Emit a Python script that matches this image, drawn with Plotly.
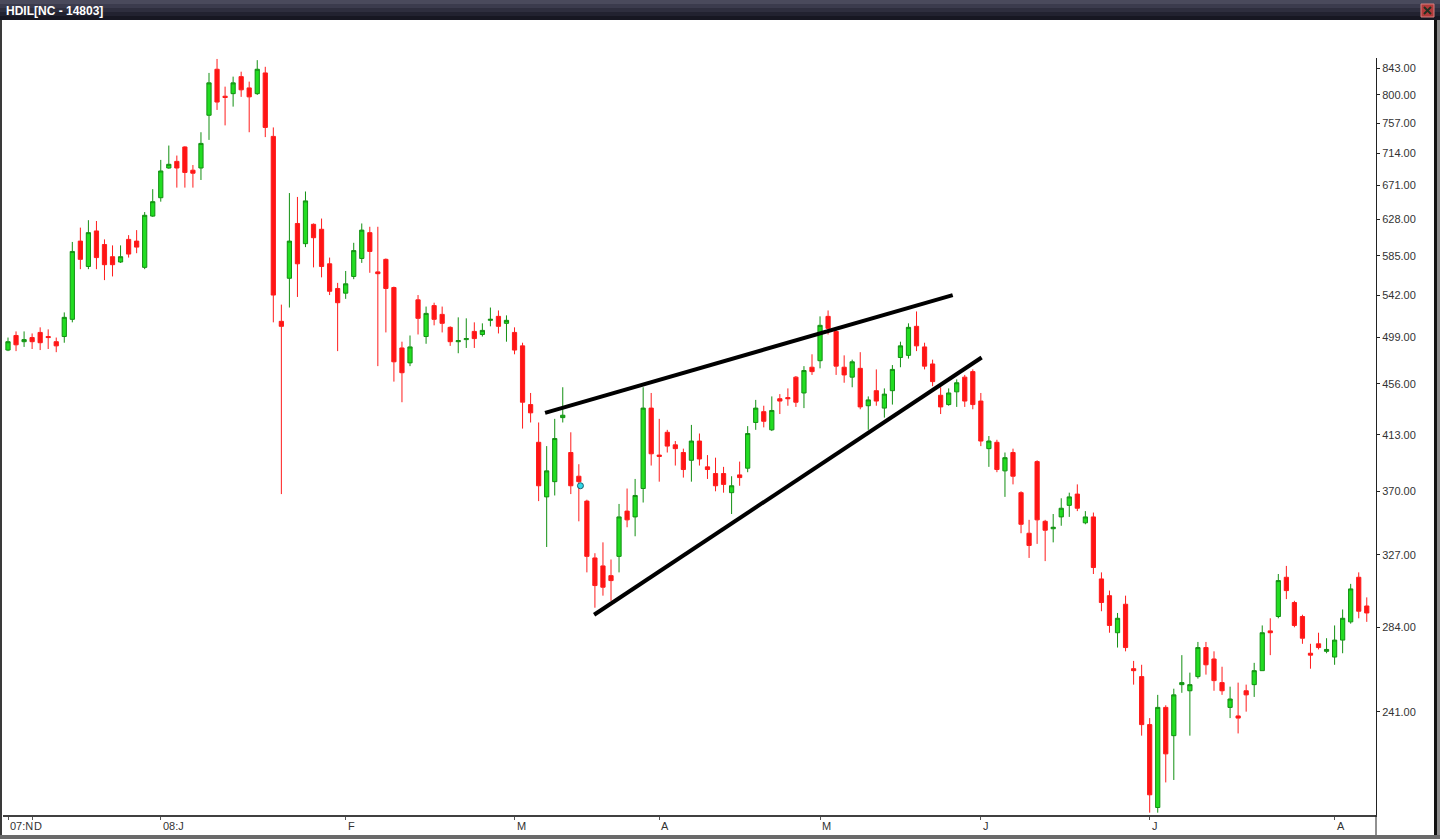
import plotly.graph_objects as go

# ---------------- data ----------------
opens = [487, 501, 495, 499, 504, 500, 495, 500, 517, 602,
         573, 614, 598, 584, 578, 604, 602, 572, 632, 655,
         694, 703, 723, 691, 694, 769, 841, 798, 802, 829,
         811, 802, 835, 738, 515, 560, 623, 599, 622, 616,
         576, 549, 544, 562, 582, 612, 567, 581, 550, 489,
         475, 537, 500, 531, 522, 509, 495, 497, 505, 502,
         516, 520, 513, 504, 491, 438, 407, 366, 377, 427,
         399, 381, 363, 325, 320, 314, 326, 356, 352, 372,
         435, 397, 415, 405, 399, 393, 408, 388, 383, 383,
         369, 382, 387, 423, 432, 417, 443, 444, 462, 448,
         471, 477, 520, 505, 471, 462, 470, 437, 450, 435,
         450, 480, 482, 510, 490, 474, 446, 438, 449, 462,
         467, 441, 402, 407, 385, 399, 369, 341, 392, 349,
         344, 352, 360, 368, 348, 352, 312, 302, 281, 297,
         262, 258, 235, 200, 243, 230, 254, 251, 258, 273,
         267, 255, 243, 239, 251, 254, 261, 282, 290, 313,
         298, 290, 270, 275, 271, 268, 277, 287, 313, 296]
highs = [499, 505, 505, 503, 509, 507, 499, 524, 601, 618,
         627, 626, 604, 597, 597, 609, 615, 637, 666, 705,
         725, 711, 724, 698, 744, 835, 858, 813, 829, 837,
         821, 856, 845, 751, 532, 661, 656, 663, 623, 629,
         583, 555, 568, 600, 623, 619, 619, 582, 551, 495,
         501, 542, 530, 534, 530, 510, 519, 518, 514, 513,
         529, 526, 521, 509, 494, 448, 423, 404, 426, 453,
         415, 390, 364, 328, 335, 324, 361, 372, 379, 453,
         448, 426, 417, 408, 402, 421, 414, 397, 395, 388,
         381, 392, 420, 442, 437, 445, 447, 452, 463, 472,
         483, 520, 526, 508, 482, 478, 485, 445, 469, 452,
         473, 495, 513, 525, 494, 478, 453, 452, 460, 464,
         469, 448, 412, 409, 399, 402, 370, 350, 393, 350,
         354, 365, 369, 375, 356, 355, 316, 305, 292, 302,
         266, 264, 238, 249, 244, 252, 269, 260, 276, 276,
         271, 263, 253, 255, 254, 265, 285, 289, 315, 320,
         299, 291, 275, 281, 278, 285, 294, 309, 316, 301]
lows = [486, 486, 490, 488, 487, 488, 485, 494, 514, 570,
        570, 570, 558, 562, 577, 583, 588, 570, 631, 650,
        693, 668, 668, 668, 678, 733, 777, 754, 782, 797,
        744, 800, 737, 514, 368, 529, 540, 595, 572, 561,
        542, 486, 538, 559, 577, 566, 472, 504, 458, 440,
        472, 502, 493, 511, 504, 491, 484, 489, 489, 500,
        510, 503, 495, 483, 418, 423, 363, 332, 367, 423,
        368, 349, 316, 295, 302, 299, 316, 345, 339, 362,
        389, 377, 399, 389, 380, 377, 389, 379, 370, 369,
        354, 374, 384, 417, 419, 416, 430, 437, 436, 435,
        464, 470, 502, 464, 457, 453, 434, 417, 437, 427,
        438, 471, 479, 486, 469, 454, 430, 437, 436, 436,
        434, 404, 388, 384, 366, 375, 341, 325, 334, 323,
        335, 346, 352, 356, 347, 315, 293, 281, 273, 271,
        254, 230, 198, 198, 210, 211, 250, 230, 257, 259,
        251, 249, 238, 231, 241, 248, 261, 269, 289, 300,
        284, 275, 262, 272, 270, 264, 270, 286, 289, 287]
closes = [495, 492, 497, 495, 494, 499, 491, 519, 590, 581,
          612, 583, 575, 575, 584, 587, 595, 633, 650, 690,
          699, 694, 688, 687, 728, 819, 789, 796, 819, 808,
          797, 841, 751, 542, 510, 602, 576, 651, 606, 573,
          546, 534, 554, 591, 615, 590, 565, 549, 476, 466,
          490, 518, 523, 517, 513, 495, 496, 498, 498, 506,
          517, 510, 516, 487, 440, 431, 374, 385, 410, 429,
          374, 377, 326, 308, 307, 311, 352, 350, 367, 435,
          398, 396, 404, 402, 386, 408, 394, 386, 374, 375,
          374, 380, 414, 435, 424, 433, 441, 443, 440, 468,
          467, 511, 508, 472, 464, 476, 436, 442, 441, 447,
          469, 491, 509, 491, 472, 458, 436, 448, 457, 441,
          438, 408, 408, 386, 395, 381, 347, 333, 350, 343,
          345, 358, 366, 358, 352, 319, 298, 285, 289, 273,
          261, 235, 205, 243, 222, 249, 255, 254, 273, 264,
          256, 251, 247, 238, 249, 261, 281, 281, 311, 305,
          285, 278, 269, 273, 272, 277, 289, 306, 293, 292]
sessions = list(range(len(opens)))

month_ticks = [0, 3, 19, 42, 63, 81, 101, 121, 142, 165]
month_labels = ["07:N", "D", "08:J", "F", "M", "A", "M", "J", "J", "A"]

price_ticks = [843, 800, 757, 714, 671, 628, 585, 542, 499, 456, 413, 370, 327, 284, 241]
price_labels = [f"{v:.2f}" for v in price_ticks]

upper_trend_x = [66.8, 117.5]
upper_trend_y = [431, 542]
lower_trend_x = [72.9, 121.1]
lower_trend_y = [291, 480]
marker_x = [71.2]
marker_y = [374]

title_text = "HDIL[NC - 14803]"

# ---------------- geometry ----------------
W, H = 1440, 839
PL, PR, PT, PB = 3, 1376, 58, 815


def xp(px):
    return (px - PL) / (PR - PL)


def yp(py):
    return (PB - py) / (PB - PT)


fig = go.Figure()

fig.add_trace(go.Candlestick(
    x=sessions, open=opens, high=highs, low=lows, close=closes,
    increasing=dict(line=dict(color="#139013", width=1), fillcolor="#22dd22"),
    decreasing=dict(line=dict(color="#ff1c1c", width=1), fillcolor="#ff1414"),
    whiskerwidth=0, hoverinfo="skip", showlegend=False,
))

fig.add_trace(go.Scatter(x=upper_trend_x, y=upper_trend_y, mode="lines",
                         line=dict(color="#000000", width=4), hoverinfo="skip", showlegend=False))
fig.add_trace(go.Scatter(x=lower_trend_x, y=lower_trend_y, mode="lines",
                         line=dict(color="#000000", width=4), hoverinfo="skip", showlegend=False))
fig.add_trace(go.Scatter(x=marker_x, y=marker_y, mode="markers",
                         marker=dict(color="#30d8e8", size=6, line=dict(color="#1a6070", width=1)),
                         hoverinfo="skip", showlegend=False))

shapes = []
# title bar gradient
bar_cols = ["#4a4a5c", "#3b3b4d", "#2e2e3e", "#222230", "#171722"]
for k, col in enumerate(bar_cols):
    shapes.append(dict(type="rect", xref="paper", yref="paper",
                       x0=xp(0), x1=xp(W), y0=yp(4 * k), y1=yp(4 * k + 4),
                       fillcolor=col, line=dict(width=0), layer="above"))
# left border
shapes.append(dict(type="rect", xref="paper", yref="paper", x0=xp(0), x1=xp(2),
                   y0=yp(20), y1=yp(H), fillcolor="#3a3a3a", line=dict(width=0)))
# right border
shapes.append(dict(type="rect", xref="paper", yref="paper", x0=xp(1434), x1=xp(1437),
                   y0=yp(20), y1=yp(H), fillcolor="#111111", line=dict(width=0)))
shapes.append(dict(type="rect", xref="paper", yref="paper", x0=xp(1437), x1=xp(W),
                   y0=yp(20), y1=yp(H), fillcolor="#8a8a8a", line=dict(width=0)))
# bottom border
shapes.append(dict(type="rect", xref="paper", yref="paper", x0=xp(0), x1=xp(W),
                   y0=yp(835), y1=yp(H), fillcolor="#6a6a6a", line=dict(width=0)))
# y-axis line extension below the x-axis
shapes.append(dict(type="line", xref="paper", yref="paper", x0=xp(1376), x1=xp(1376),
                   y0=yp(815), y1=yp(835), line=dict(color="#222222", width=1)))
# close button
shapes.append(dict(type="rect", xref="paper", yref="paper", x0=xp(1421), x1=xp(1434),
                   y0=yp(4), y1=yp(17), fillcolor="#b03a3a", line=dict(color="#d88080", width=1)))
shapes.append(dict(type="line", xref="paper", yref="paper", x0=xp(1424), x1=xp(1431),
                   y0=yp(7), y1=yp(14), line=dict(color="#203020", width=2)))
shapes.append(dict(type="line", xref="paper", yref="paper", x0=xp(1424), x1=xp(1431),
                   y0=yp(14), y1=yp(7), line=dict(color="#203020", width=2)))

annotations = [dict(text="<b>" + title_text + "</b>", x=xp(4), y=yp(11), xref="paper", yref="paper",
                    xanchor="left", yanchor="middle", showarrow=False,
                    font=dict(family="Liberation Sans", size=12, color="#ffffff"))]
for tv, tl in zip(month_ticks, month_labels):
    annotations.append(dict(text=tl, x=tv, y=yp(826), xref="x", yref="paper",
                            xanchor="left", yanchor="middle", showarrow=False, xshift=0,
                            font=dict(family="Liberation Sans", size=11, color="#333333")))

fig.update_layout(
    width=W, height=H,
    margin=dict(l=PL, r=W - PR, t=PT, b=H - PB, pad=0),
    paper_bgcolor="#ffffff", plot_bgcolor="#ffffff",
    showlegend=False, hovermode=False, boxgap=0.25,
    shapes=shapes, annotations=annotations,
    xaxis=dict(range=[(PL - 8) / 8.04, (PR - 8) / 8.04], showgrid=False, zeroline=False,
               showline=True, linecolor="#404040", linewidth=2,
               tickvals=month_ticks, ticks="outside", ticklen=3, tickcolor="#555555",
               showticklabels=False, rangeslider=dict(visible=False), fixedrange=True),
    yaxis=dict(type="log", range=[2.29469, 2.93430], side="right", showgrid=False, zeroline=False,
               showline=True, linecolor="#222222", linewidth=1,
               tickvals=price_ticks, ticktext=price_labels, ticks="outside", ticklen=3,
               tickcolor="#222222",
               tickfont=dict(family="Liberation Sans", size=11, color="#333333"), fixedrange=True),
)

fig.write_html("out.html", config={"displayModeBar": False, "staticPlot": True},
               post_script="document.body.style.margin='0';document.body.style.padding='0';document.body.style.overflow='hidden';")
